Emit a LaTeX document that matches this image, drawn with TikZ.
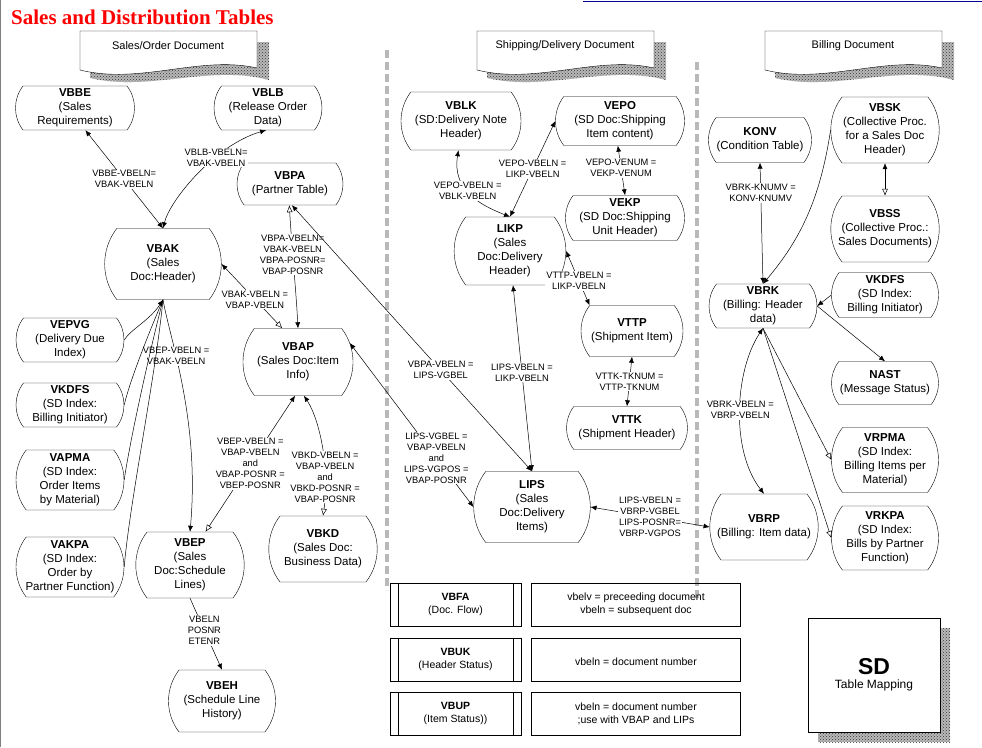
\documentclass[tikz,border=0pt]{standalone}
\usepackage{fontspec}
\setmainfont{Liberation Sans}
\newfontfamily\titlefont{Liberation Serif}
\usetikzlibrary{arrows.meta,patterns,shapes.misc}
\begin{document}
\begin{tikzpicture}[x=1pt,y=-1pt,
  tb/.style n args={2}{draw,rounded rectangle,rounded rectangle arc length=75,align=center,inner sep=1pt,minimum width=#1,minimum height=#2,font=\fontsize{11.5}{14}\selectfont},
  lbl/.style={fill=white,inner sep=1pt,align=center,font=\fontsize{9.3}{11}\selectfont},
  con/.style={draw,line width=0.5pt},
  F/.style={-{Latex[length=6pt,width=5pt]}},
  FF/.style={{Latex[length=6pt,width=5pt]}-{Latex[length=6pt,width=5pt]}},
  FO/.style={{Latex[length=6pt,width=5pt]}-{Latex[open,length=7pt,width=6pt]}},
  O/.style={-{Latex[open,length=7pt,width=6pt]}},
  sep/.style={draw=gray!55,line width=3.5pt,dash pattern=on 8pt off 4pt},
  shadowfill/.style={fill=gray!55,postaction={pattern=crosshatch dots,pattern color=black!80}}]
\useasboundingbox (0,0) rectangle (982,747);
\draw[gray,line width=1pt] (0.5,0) -- (0.5,747);
\draw[blue!60!black] (583,1) -- (982,1);
\node[anchor=west,text=red,font=\titlefont\bfseries\fontsize{21}{23}\selectfont,inner sep=0] (title) at (11,17) {Sales and Distribution Tables};

% separators
\draw[sep] (387,50) -- (387,590);
\draw[sep] (697,62) -- (697,600);

% banners
\foreach \x/\t/\n in {80/Sales\slash Order Document/b1,477/Shipping\slash Delivery Document/b2,765/Billing Document/b3}{
  \fill[shadowfill] (\x+10,42) -- (\x+189,42) -- (\x+189,80) .. controls (\x+130,64) and (\x+70,92) .. (\x+10,78) -- cycle;
  \draw[fill=white] (\x,31) -- (\x+177,31) -- (\x+177,68) .. controls (\x+120,55) and (\x+60,85) .. (\x,70) -- cycle;
  \node[font=\fontsize{11}{13}\selectfont] (\n) at (\x+88,46) {\t};
}

% Sales nodes
\node[tb={121pt}{44pt}] (VBBE) at (75,108) {\textbf{VBBE}\\(Sales\\Requirements)};
\node[tb={110pt}{44pt}] (VBLB) at (268,108) {\textbf{VBLB}\\(Release Order\\Data)};
\node[tb={108pt}{42pt}] (VBPA) at (290,184) {\textbf{VBPA}\\(Partner Table)};
\node[tb={98pt}{71pt}] (VBAK) at (163,264) {\textbf{VBAK}\\(Sales\\Doc:Header)};
\node[tb={110pt}{44pt}] (VEPVG) at (70,340) {\textbf{VEPVG}\\(Delivery Due\\Index)};
\node[tb={110pt}{44pt}] (VKDFS) at (70,405) {\textbf{VKDFS}\\(SD Index:\\Billing Initiator)};
\node[tb={110pt}{60pt}] (VAPMA) at (70,480) {\textbf{VAPMA}\\(SD Index:\\Order Items\\by Material)};
\node[tb={110pt}{60pt}] (VAKPA) at (70,567) {\textbf{VAKPA}\\(SD Index:\\Order by\\Partner Function)};
\node[tb={109pt}{66pt}] (VBEP) at (190,565) {\textbf{VBEP}\\(Sales\\Doc:Schedule\\Lines)};
\node[tb={103pt}{67pt}] (VBAP) at (298,362) {\textbf{VBAP}\\(Sales Doc:Item\\Info)};
\node[tb={110pt}{66pt}] (VBKD) at (323,549) {\textbf{VBKD}\\(Sales Doc:\\Business Data)};
\node[tb={109pt}{62pt}] (VBEH) at (222,701) {\textbf{VBEH}\\(Schedule Line\\History)};

% Shipping nodes
\node[tb={122pt}{58pt}] (VBLK) at (461,121) {\textbf{VBLK}\\(SD:Delivery Note\\Header)};
\node[tb={131pt}{49pt}] (VEPO) at (620,121) {\textbf{VEPO}\\(SD Doc:Shipping\\Item content)};
\node[tb={121pt}{45pt}] (VEKP) at (625,218) {\textbf{VEKP}\\(SD Doc:Shipping\\Unit Header)};
\node[tb={109pt}{68pt}] (LIKP) at (510,251) {\textbf{LIKP}\\(Sales\\Doc:Delivery\\Header)};
\node[tb={104pt}{51pt}] (VTTP) at (632,331) {\textbf{VTTP}\\(Shipment Item)};
\node[tb={123pt}{43pt}] (VTTK) at (627,428) {\textbf{VTTK}\\(Shipment Header)};
\node[tb={110pt}{71pt}] (LIPS) at (532,507) {\textbf{LIPS}\\(Sales\\Doc:Delivery\\Items)};

% Billing nodes
\node[tb={105pt}{45pt}] (KONV) at (760,140) {\textbf{KONV}\\(Condition Table)};
\node[tb={109pt}{66pt}] (VBSK) at (885,130) {\textbf{VBSK}\\(Collective Proc.\\for a Sales Doc\\Header)};
\node[tb={109pt}{66pt}] (VBSS) at (885,229) {\textbf{VBSS}\\(Collective Proc.:\\Sales Documents)};
\node[tb={110pt}{44pt}] (VBRK) at (763,306) {\textbf{VBRK}\\(Billing: Header\\data)};
\node[tb={109pt}{45pt}] (VKDFSr) at (885,295) {\textbf{VKDFS}\\(SD Index:\\Billing Initiator)};
\node[tb={109pt}{43pt}] (NAST) at (885,383) {\textbf{NAST}\\(Message Status)};
\node[tb={109pt}{65pt}] (VRPMA) at (885,460) {\textbf{VRPMA}\\(SD Index:\\Billing Items per\\Material)};
\node[tb={109pt}{64pt}] (VRKPA) at (885,538) {\textbf{VRKPA}\\(SD Index:\\Bills by Partner\\Function)};
\node[tb={108pt}{66pt}] (VBRP) at (764,527) {\textbf{VBRP}\\(Billing: Item data)};

% Sales connectors
\draw[con,FF] (VBBE.-65) -- node[lbl,pos=0.5]{VBBE-VBELN=\\VBAK-VBELN} (VBAK.north);
\draw[con,FF] (VBLB.-95) .. controls (215,145) and (170,200) .. node[lbl,pos=0.35]{VBLB-VBELN=\\VBAK-VBELN} (VBAK.north);
\draw[con,{Latex[open,length=7pt,width=6pt]}-{Latex[length=6pt,width=5pt]}] (VBPA.-92) .. controls (292,250) and (296,290) .. node[lbl,pos=0.38]{VBPA-VBELN=\\VBAK-VBELN\\VBPA-POSNR=\\VBAP-POSNR} (VBAP.north);
\draw[con,FO] (VBAK.east) -- node[lbl,pos=0.55]{VBAK-VBELN =\\VBAP-VBELN} (VBAP.115);
\draw[con,F] (VBAK.south) .. controls (170,340) and (200,420) .. node[lbl,pos=0.35]{VBEP-VBELN =\\VBAK-VBELN} (VBEP.north);
\draw[con,FO] (VBAP.-95) -- node[lbl,pos=0.5]{VBEP-VBELN =\\VBAP-VBELN\\and\\VBAP-POSNR =\\VBEP-POSNR} (VBEP.65);
\draw[con,FO] (VBAP.-80) .. controls (320,420) and (330,470) .. node[lbl,pos=0.72]{VBKD-VBELN =\\VBAP-VBELN\\and\\VBKD-POSNR =\\VBAP-POSNR} (VBKD.north);
\draw[con,F] (VBEP.south) -- node[lbl,pos=0.45]{VBELN\\POSNR\\ETENR} (VBEH.north);
\draw[con,{Latex[length=6pt,width=5pt]}-] (VBAK.south) .. controls (150,320) and (130,330) .. (VEPVG.east);
\draw[con] (VBAK.south) .. controls (150,330) and (130,380) .. (VKDFS.east);
\draw[con] (VBAK.south) .. controls (150,350) and (130,440) .. (VAPMA.east);
\draw[con] (VBAK.south) .. controls (155,380) and (130,500) .. (VAKPA.east);

% Cross connectors
\draw[con,FF] (VBPA.-85) -- node[lbl,pos=0.62]{VBPA-VBELN =\\LIPS-VGBEL} (LIPS.north);
\draw[con,FF] (VBAP.20) -- node[lbl,pos=0.7]{LIPS-VGBEL =\\VBAP-VBELN\\and\\LIPS-VGPOS =\\VBAP-POSNR} (LIPS.west);

% Shipping connectors
\draw[con,FF] (VBLK.-95) .. controls (452,190) and (480,205) .. node[lbl,pos=0.45]{VEPO-VBELN =\\VBLK-VBELN} (LIKP.north);
\draw[con,FF] (LIKP.north) -- node[lbl,pos=0.5]{VEPO-VBELN =\\LIKP-VBELN} (VEPO.west);
\draw[con,FF] (VEPO.-95) -- node[lbl,pos=0.45]{VEPO-VENUM =\\VEKP-VENUM} (VEKP.north);
\draw[con,FF] (LIKP.east) -- node[lbl,pos=0.55]{VTTP-VBELN =\\LIKP-VBELN} (VTTP.north west);
\draw[con,FF] (VTTP.south) -- node[lbl,pos=0.5]{VTTK-TKNUM =\\VTTP-TKNUM} (VTTK.north);
\draw[con,FF] (LIKP.-85) -- node[lbl,pos=0.47]{LIPS-VBELN =\\LIKP-VBELN} (LIPS.north);
\draw[con,FF] (LIPS.east) -- node[lbl,pos=0.5]{LIPS-VBELN =\\VBRP-VGBEL\\LIPS-POSNR=\\VBRP-VGPOS} (VBRP.west);

% Billing connectors
\draw[con,FF] (KONV.south) -- node[lbl,pos=0.25]{VBRK-KNUMV =\\KONV-KNUMV} (VBRK.north);
\draw[con,F] (VBSK.west) .. controls (820,200) and (800,240) .. (VBRK.north);
\draw[con,FO] (VBSK.south) -- (VBSS.north);
\draw[con,F] (VKDFSr.west) -- (VBRK.east);
\draw[con,F] (VBRK.east) -- (NAST.north);
\draw[con,FF] (VBRK.south) .. controls (735,370) and (730,450) .. node[lbl,pos=0.5]{VBRK-VBELN =\\VBRP-VBELN} (VBRP.north);
\draw[con,O] (VBRK.south) -- (VRPMA.west);
\draw[con,O] (VBRK.south) -- (VRKPA.west);

% bottom boxes
\foreach \y/\n/\a/\b/\c in {583/VBFA/Doc. Flow/vbelv = preceeding document/vbeln = subsequent doc,
                            638/VBUK/Header Status//vbeln = document number,
                            692/VBUP/Item Status)/vbeln = document number/;use with VBAP and LIPs}{
  \draw (390,\y) rectangle (521,\y+43);
  \draw (398,\y) -- (398,\y+43) (513,\y) -- (513,\y+43);
  \node[align=center,font=\fontsize{10.5}{13}\selectfont] (\n) at (455.5,\y+21.5) {\textbf{\n}\\(\a)};
  \node[draw,minimum width=209pt,minimum height=43pt,inner sep=0,align=center,font=\fontsize{10.5}{13}\selectfont] (\n t) at (636,\y+21.5) {\b\\\c};
}
\fill[shadowfill] (818,628) rectangle (950,742);
\draw[fill=white] (808,618) rectangle (940,732);
\node[align=center] (SD) at (874,675) {{\fontsize{23}{27}\selectfont\textbf{SD}}\\[2pt]{\fontsize{12}{14}\selectfont Table Mapping}};
\end{tikzpicture}
\end{document}
